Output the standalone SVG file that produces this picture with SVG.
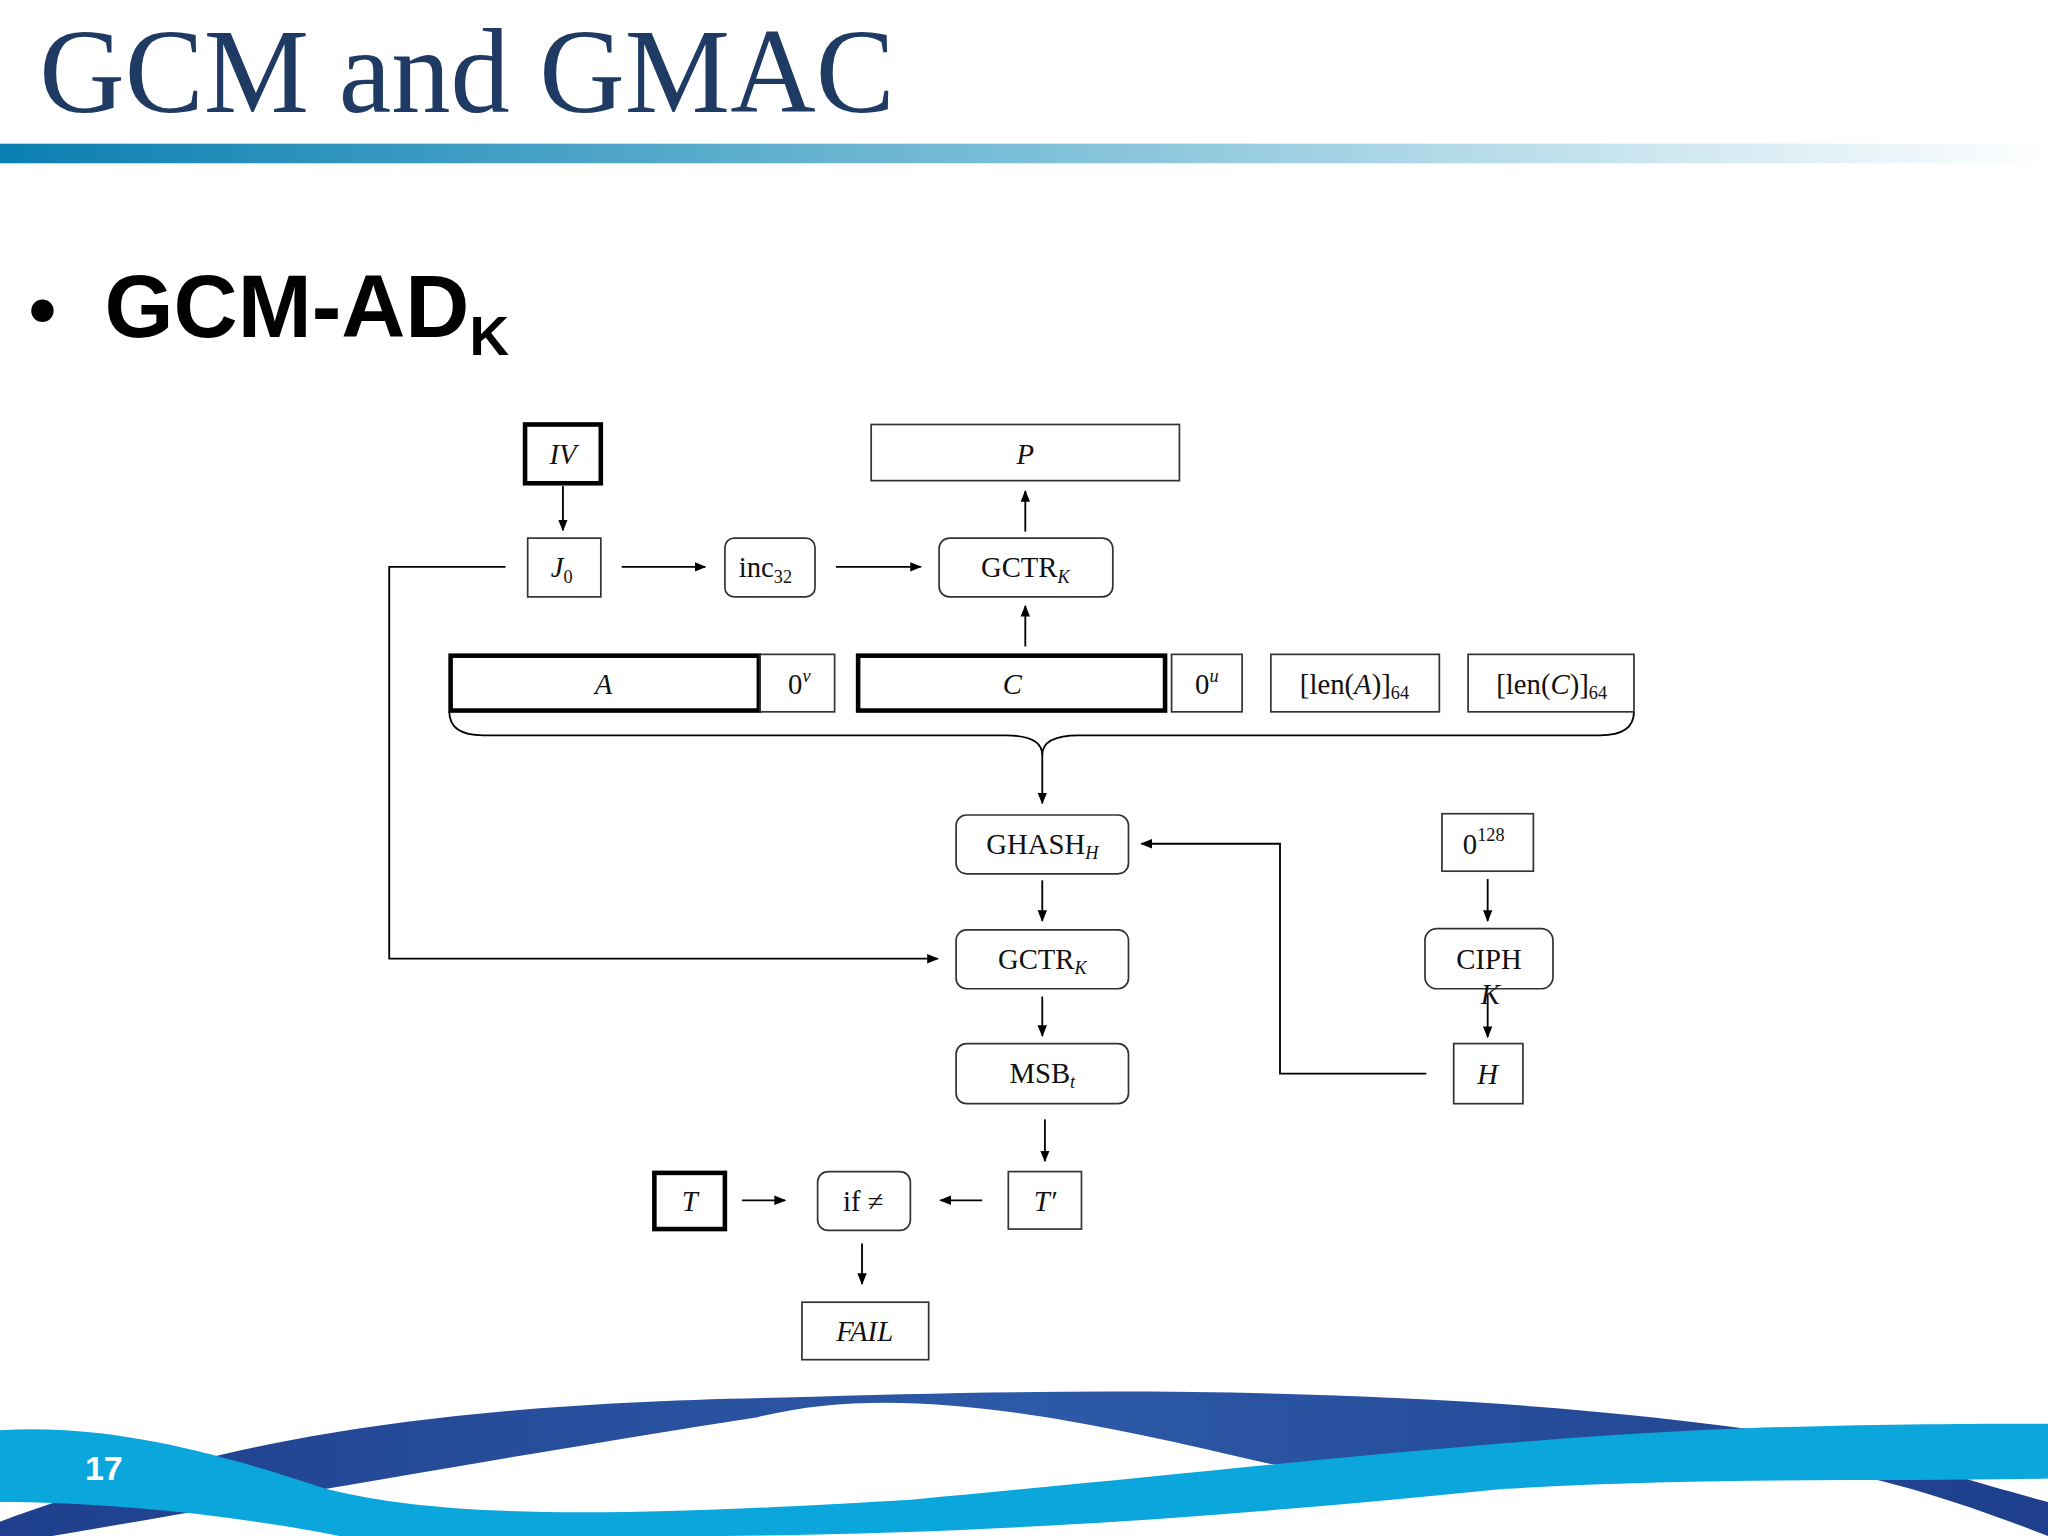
<svg xmlns="http://www.w3.org/2000/svg" width="2048" height="1536" viewBox="0 0 2048 1536">
<defs>
<linearGradient id="bar" x1="0" x2="1" y1="0" y2="0">
<stop offset="0" stop-color="#0a7fb1"/><stop offset="0.5" stop-color="#7cbfd8"/><stop offset="1" stop-color="#ffffff"/>
</linearGradient>
<linearGradient id="dark" x1="0" x2="1"><stop offset="0" stop-color="#1f3f8c"/><stop offset="0.5" stop-color="#2d5aa8"/><stop offset="1" stop-color="#1f3f8c"/></linearGradient>
<marker id="ah" viewBox="0 0 10 10" refX="9" refY="5" markerWidth="9" markerHeight="9" orient="auto-start-reverse" markerUnits="userSpaceOnUse"><path d="M0,1 L10,5 L0,9 z" fill="#000"/></marker>
<style>
.b{fill:#fff;stroke:#333;stroke-width:1.3}
.k{fill:#fff;stroke:#000;stroke-width:3.5}
.t{font-family:"Liberation Serif","DejaVu Serif",serif;font-size:22px;fill:#111;text-anchor:middle}
.i{font-style:italic}
.s{font-size:14px}
.c line,.c path,.c polyline{stroke:#000;stroke-width:1.4;fill:none}
.a{marker-end:url(#ah)}
</style>
</defs>
<rect width="2048" height="1536" fill="#fff"/>
<g transform="scale(1.30612)">
<text x="30" y="86" font-family="Liberation Serif,serif" font-size="92" fill="#1f3b64" textLength="655" lengthAdjust="spacingAndGlyphs">GCM and GMAC</text>
<rect x="0" y="110" width="1568" height="15" fill="url(#bar)"/>
<text x="22" y="258" font-family="Liberation Sans,Arial,sans-serif" font-size="60" font-weight="bold">•</text>
<text x="80" y="258" font-family="Liberation Sans,Arial,sans-serif" font-size="68" font-weight="bold">GCM-AD<tspan font-size="42" dy="14">K</tspan></text>

<g class="c">
<line class="a" x1="431" y1="372" x2="431" y2="406"/>
<line class="a" x1="476" y1="434" x2="540" y2="434"/>
<line class="a" x1="640" y1="434" x2="705" y2="434"/>
<line class="a" x1="785" y1="407" x2="785" y2="376"/>
<line class="a" x1="785" y1="495" x2="785" y2="464"/>
<polyline class="a" points="387,434 298,434 298,734 718,734"/>
<path d="M344,545 Q344,563 370,563 L770,563 Q798,563 798,578 Q798,563 826,563 L1225,563 Q1251,563 1251,545"/>
<line class="a" x1="798" y1="578" x2="798" y2="615"/>
<line class="a" x1="798" y1="674" x2="798" y2="705"/>
<line class="a" x1="798" y1="763" x2="798" y2="793"/>
<line class="a" x1="800" y1="857" x2="800" y2="889"/>
<polyline class="a" points="1092,822 980,822 980,646 874,646"/>
<line class="a" x1="1139" y1="673" x2="1139" y2="705"/>
<line class="a" x1="1139" y1="762" x2="1139" y2="794"/>
<line class="a" x1="568" y1="919" x2="601" y2="919"/>
<line class="a" x1="752" y1="919" x2="720" y2="919"/>
<line class="a" x1="660" y1="952" x2="660" y2="983"/>
</g>

<g id="iv"><rect class="k" x="402" y="325" width="58" height="45"/><text class="t i" x="431" y="355">IV</text></g>
<g id="p"><rect class="b" x="667" y="325" width="236" height="43"/><text class="t i" x="785" y="355">P</text></g>
<g id="j0"><rect class="b" x="404" y="412" width="56" height="45"/><text class="t i" x="430" y="442">J<tspan class="s" font-style="normal" dy="4">0</tspan></text></g>
<g id="inc"><rect class="b" x="555" y="412" width="69" height="45" rx="7"/><text class="t" x="586" y="442">inc<tspan class="s" dy="4">32</tspan></text></g>
<g id="gctr1"><rect class="b" x="719" y="412" width="133" height="45" rx="8"/><text class="t" x="785" y="442">GCTR<tspan class="s i" dy="4">K</tspan></text></g>
<g id="a"><rect class="k" x="345" y="502" width="236" height="42"/><text class="t i" x="462" y="531">A</text></g>
<g id="zv"><rect class="b" x="582" y="501" width="57" height="44"/><text class="t" x="612" y="531">0<tspan class="s i" dy="-9">v</tspan></text></g>
<g id="c"><rect class="k" x="657" y="502" width="235" height="42"/><text class="t i" x="775" y="531">C</text></g>
<g id="zu"><rect class="b" x="897" y="501" width="54" height="44"/><text class="t" x="924" y="531">0<tspan class="s i" dy="-9">u</tspan></text></g>
<g id="lena"><rect class="b" x="973" y="501" width="129" height="44"/><text class="t" x="1037" y="531">[len(<tspan class="i">A</tspan>)]<tspan class="s" dy="4">64</tspan></text></g>
<g id="lenc"><rect class="b" x="1124" y="501" width="127" height="44"/><text class="t" x="1188" y="531">[len(<tspan class="i">C</tspan>)]<tspan class="s" dy="4">64</tspan></text></g>
<g id="ghash"><rect class="b" x="732" y="624" width="132" height="45" rx="8"/><text class="t" x="798" y="654">GHASH<tspan class="s i" dy="4">H</tspan></text></g>
<g id="gctr2"><rect class="b" x="732" y="712" width="132" height="45" rx="8"/><text class="t" x="798" y="742">GCTR<tspan class="s i" dy="4">K</tspan></text></g>
<g id="msb"><rect class="b" x="732" y="799" width="132" height="46" rx="8"/><text class="t" x="798" y="829">MSB<tspan class="s i" dy="4">t</tspan></text></g>
<g id="tp"><rect class="b" x="772" y="897" width="56" height="44"/><text class="t i" x="800" y="927">T′</text></g>
<g id="t"><rect class="k" x="501" y="898" width="54" height="43"/><text class="t i" x="528" y="927">T</text></g>
<g id="ifne"><rect class="b" x="626" y="897" width="71" height="45" rx="8"/><text class="t" x="661" y="927">if ≠</text></g>
<g id="fail"><rect class="b" x="614" y="997" width="97" height="44"/><text class="t i" x="662" y="1027">FAIL</text></g>
<g id="z128"><rect class="b" x="1104" y="623" width="70" height="44" stroke-width="2"/><text class="t" x="1136" y="654">0<tspan class="s" dy="-10">128</tspan></text></g>
<g id="ciph"><rect class="b" x="1091" y="711" width="98" height="46" rx="9"/><text class="t" x="1140" y="742">CIPH</text></g>
<text class="t i" x="1141" y="769" font-size="11">K</text>
<g id="h"><rect class="b" x="1113" y="799" width="53" height="46"/><text class="t i" x="1139" y="830">H</text></g>

<path d="M0,1165 C150,1110 300,1075 600,1070 C900,1060 1150,1065 1380,1100 C1450,1115 1530,1140 1568,1150 L1568,1176 C1500,1150 1420,1120 1300,1112 C1150,1115 1050,1140 960,1118 C800,1080 680,1060 580,1085 C420,1110 250,1140 40,1176 L0,1176 Z" fill="url(#dark)"/>
<path d="M0,1095 C80,1090 160,1110 250,1140 C350,1165 500,1160 700,1148 C950,1125 1150,1100 1350,1093 C1450,1090 1520,1090 1568,1090 L1568,1132 C1450,1135 1320,1130 1150,1140 C950,1160 750,1176 520,1176 L260,1176 C180,1160 80,1150 0,1150 Z" fill="#0aa6dc"/>
<text x="65" y="1133" font-family="Liberation Sans,Arial,sans-serif" font-size="26" font-weight="bold" fill="#fff">17</text>
</g>
</svg>
